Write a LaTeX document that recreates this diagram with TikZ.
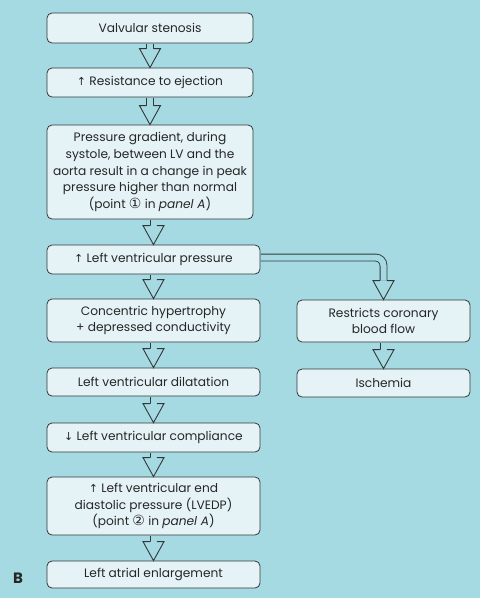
\documentclass[tikz,border=0pt]{standalone}
\usepackage{fontspec}
\setmainfont{Poppins}
\newfontfamily\symfont{DejaVu Sans}
\usetikzlibrary{calc}

\definecolor{bgcol}{RGB}{166,218,227}
\definecolor{boxcol}{RGB}{229,243,247}
\definecolor{linecol}{RGB}{50,55,57}

\newcommand{\incr}{{\symfont\fontsize{11}{11}\selectfont ↑}}
\newcommand{\decr}{{\symfont\fontsize{11}{11}\selectfont ↓}}
\newcommand{\circnum}[1]{{\symfont\fontsize{14}{14}\selectfont #1}}

\tikzset{
  box/.style={draw=linecol, fill=boxcol, rounded corners=5pt, line width=0.8pt,
    align=center, inner sep=0pt, text=black!85,
    font=\fontsize{12.2}{16.8}\selectfont},
  narrowbox/.style={box, minimum width=206pt},
  widebox/.style={box, minimum width=213pt},
  sidebox/.style={box, minimum width=173pt},
  shaft/.style={draw=linecol, double=bgcol, double distance=6pt, line width=0.9pt},
  head/.style={draw=linecol, fill=bgcol, line width=0.9pt, line join=miter},
}

% hollow arrow head, tip at #1
\newcommand{\arrowhead}[1]{%
  \draw[head] ($(#1)+(-3.45,19)$) -- ++(-7.05,0) -- (#1) -- ++(10.5,19) -- ++(-7.05,0);}
% straight hollow arrow from box #1 down to box #2
\newcommand{\flow}[2]{%
  \draw[shaft] ($(#2.north |- #1.south)+(0,-0.5)$) -- ($(#2.north)+(0,19)$);
  \arrowhead{#2.north}}

\begin{document}
\begin{tikzpicture}[x=1pt,y=1pt]

% Background
\fill[bgcol] (0,0) rectangle (480,-598);
\useasboundingbox (0,0) rectangle (480,-598);

% Main chain
\node[narrowbox, minimum height=30pt] (valv) at (150,-28) {Valvular stenosis};
\node[narrowbox, minimum height=29pt] (resist) at (150,-82.5) {\incr\ Resistance to ejection};
\node[narrowbox, minimum height=94pt] (grad) at (150,-172) {Pressure gradient, during\\
  systole, between LV and the\\ aorta result in a change in peak\\
  pressure higher than normal\\ (point \circnum{①} in \textit{panel A})};
\node[widebox, minimum height=29pt] (lvp) at (153.5,-259.5) {\incr\ Left ventricular pressure};
\node[widebox, minimum height=43pt] (hyper) at (153.5,-320.5) {Concentric hypertrophy\\ + depressed conductivity};
\node[widebox, minimum height=28pt] (dilat) at (153.5,-382) {Left ventricular dilatation};
\node[widebox, minimum height=29pt] (compl) at (153.5,-437.5) {\decr\ Left ventricular compliance};
\node[widebox, minimum height=58pt] (lvedp) at (153.5,-506) {\incr\ Left ventricular end\\
  diastolic pressure (LVEDP)\\ (point \circnum{②} in \textit{panel A})};
\node[widebox, minimum height=27pt] (atrial) at (153.5,-574.5) {Left atrial enlargement};

% Side branch
\node[sidebox, minimum height=42pt] (coron) at (383.5,-321) {Restricts coronary\\ blood flow};
\node[sidebox, minimum height=28pt] (isch) at (383.5,-383) {Ischemia};

% Panel letter
\node[font=\fontsize{15}{15}\selectfont\bfseries, text=black!85] (panel) at (18,-578) {B};

% Arrows
\flow{valv}{resist}
\flow{resist}{grad}
\flow{grad}{lvp}
\flow{lvp}{hyper}
\flow{hyper}{dilat}
\flow{dilat}{compl}
\flow{compl}{lvedp}
\flow{lvedp}{atrial}
\flow{coron}{isch}
\draw[shaft, rounded corners=8pt] ($(lvp.east)+(0.5,2)$) -| ($(coron.north)+(0,19)$);
\arrowhead{coron.north}

\end{tikzpicture}
\end{document}
